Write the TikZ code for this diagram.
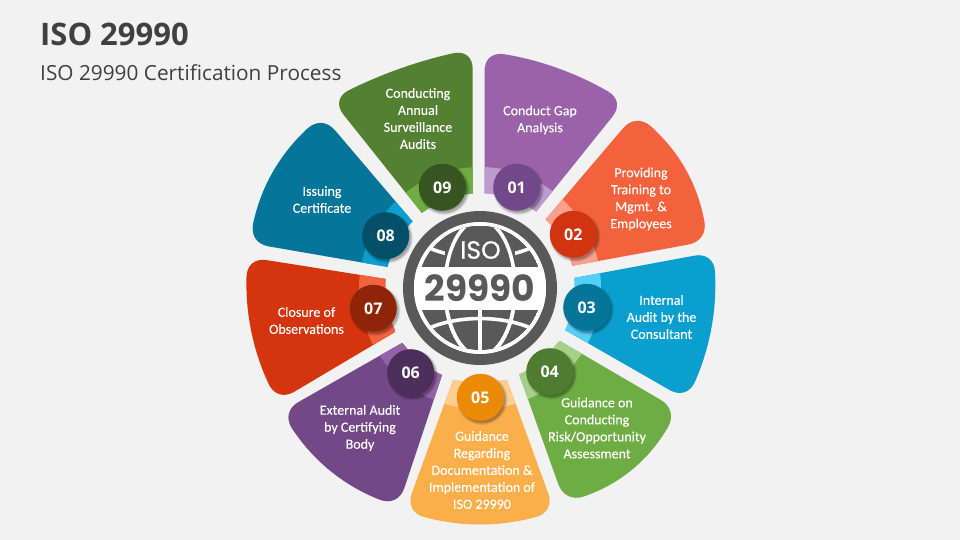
\documentclass[tikz,border=0pt]{standalone}
\usepackage{fontspec}
\setmainfont{Open Sans}
\newfontfamily\labelfont[FakeBold=0.15]{Carlito}
\newfontfamily\popfont{Poppins}
\newfontfamily\popiso[FakeBold=0.7]{Poppins}
\usetikzlibrary{calc}
\definecolor{bgc}{HTML}{F2F2F2}
\definecolor{ttl}{HTML}{404040}
\definecolor{globec}{HTML}{595959}
\definecolor{ma}{HTML}{9A62A8}\definecolor{la}{HTML}{BE9BCE}\definecolor{ba}{HTML}{71488A}
\definecolor{mb}{HTML}{F4623D}\definecolor{lb}{HTML}{F9A08B}\definecolor{bb}{HTML}{D2340F}
\definecolor{mc}{HTML}{0A9FCF}\definecolor{lc}{HTML}{55CFF7}\definecolor{bc}{HTML}{05759A}
\definecolor{md}{HTML}{6EAC44}\definecolor{ld}{HTML}{A6CF8A}\definecolor{bd}{HTML}{4F7C30}
\definecolor{me}{HTML}{FBAF4B}\definecolor{le}{HTML}{FDCD90}\definecolor{be}{HTML}{EA8B08}
\definecolor{mf}{HTML}{724886}\definecolor{lf}{HTML}{9362A8}\definecolor{bf}{HTML}{4B2E5A}
\definecolor{mg}{HTML}{D4350F}\definecolor{lg}{HTML}{F4623D}\definecolor{bg}{HTML}{8F2408}
\definecolor{mh}{HTML}{05759A}\definecolor{lh}{HTML}{0A9FCF}\definecolor{bh}{HTML}{035068}
\definecolor{mi}{HTML}{548032}\definecolor{li}{HTML}{6EAC44}\definecolor{bi}{HTML}{375521}
\tikzset{
  petaltext/.style={text=white,align=center,font=\labelfont\fontsize{14}{17}\selectfont,inner sep=0pt},
  badgeshape/.style={circle,minimum size=47pt,inner sep=0pt,text=white,font=\bfseries\fontsize{16}{18}\selectfont},
  meridian/.style={draw=white,line width=3.6pt}
}
% main, light, I1, P1, C, P2, I2
\newcommand\petal[7]{%
  \coordinate (I1) at (#3); \coordinate (P1) at (#4); \coordinate (C) at (#5);
  \coordinate (P2) at (#6); \coordinate (I2) at (#7);
  \coordinate (A1) at ($(P1)!20pt!(I1)$); \coordinate (F1) at ($(P1)!20pt!(C)$);
  \coordinate (F2) at ($(P2)!20pt!(C)$); \coordinate (A2) at ($(P2)!20pt!(I2)$);
  \def\petalpath{(I1) -- (A1) .. controls ($(A1)!.6!(P1)$) and ($(F1)!.6!(P1)$) .. (F1)
    .. controls ($(F1)!.66!(C)$) and ($(F2)!.66!(C)$) .. (F2)
    .. controls ($(F2)!.6!(P2)$) and ($(A2)!.6!(P2)$) .. (A2) -- (I2) -- cycle}
  \fill[#1] \petalpath;
  \begin{scope}
    \clip \petalpath;
    \fill[#2] (480,288) circle (121pt);
  \end{scope}
}
% name, centre, colour, text
\newcommand\badge[4]{%
  \foreach \rr/\oo in {25.5/.06,24.8/.08,24/.10,23.2/.12}{
    \fill[black,opacity=\oo] ($(#2)+(1.8,2.2)$) circle (\rr pt);
  }
  \node[badgeshape,fill=#3] (#1) at (#2) {#4};
}
\begin{document}
\begin{tikzpicture}[x=1pt,y=-1pt]
\useasboundingbox (0,0) rectangle (960,540);
\fill[bgc] (0,0) rectangle (960,540);

\node[anchor=west,inner sep=0pt,text=ttl,font=\bfseries\fontsize{31}{34}\selectfont] (title) at (40,34.5) {ISO 29990};
\node[anchor=west,inner sep=0pt,text=ttl,font=\fontsize{20.8}{24}\selectfont] (subtitle) at (40,73) {ISO 29990 Certification Process};

% petals
\petal{ma}{la}{484.5,195}{484.5,51}{558,63}{625,101}{535,213}
\petal{mb}{lb}{545,220}{636,113}{694,165}{708,241}{571,266}
\petal{mc}{lc}{574,278}{714,252}{718,329}{687,400}{565,330}
\petal{md}{ld}{560,341}{678,410}{638.5,477.5}{565,503}{519,374}
\petal{me}{le}{507,380}{555,512}{480,532}{405,512}{453,380}
\petal{mf}{lf}{442,375}{398,507}{325,478}{281,412}{402,343}
\petal{mg}{lg}{395,332}{277,402}{245,333}{247,257}{386,279}
\petal{mh}{lh}{388,267}{249,243}{265,168}{322,115}{413,222}
\petal{mi}{li}{421.7,212.7}{331,99}{400,65}{472.7,49}{472.7,195}

% centre cut-out
\fill[bgc] (480,288) circle (94.5pt);

% globe
\fill[globec] (480,288) circle (77pt);
\fill[white] (480,288) circle (66pt);
\begin{scope}
  \clip (480,288) circle (62pt);
  \fill[globec] (480,288) circle (62pt);
  \draw[meridian] (480,288) ellipse (35pt and 68pt);
  \draw[meridian] (480,310) -- (480,360);
  \draw[meridian] (412,338) .. controls (445,312) and (515,312) .. (548,338);
  \draw[meridian] (412,238) .. controls (445,264) and (515,264) .. (548,238);
  \fill[globec] (445,267) rectangle (515,215);
  \begin{scope}
    \clip (480,288) ellipse (33.2pt and 66.2pt);
    \fill[globec] (440,200) rectangle (520,267);
  \end{scope}
  \draw[meridian] (480,288) ellipse (35pt and 68pt);
\end{scope}
\begin{scope}
  \clip (480,288) circle (66pt);
  \fill[white] (400,267) rectangle (560,310);
\end{scope}
\node[inner sep=0pt,text=white,font=\popiso\fontsize{25}{27}\selectfont] (isotext) at (480.5,250) {ISO};
\node[inner sep=0pt,text=globec,font=\popfont\bfseries\fontsize{36}{38}\selectfont] (numtext) at (480,288) {29990};

% petal labels
\node[petaltext] (t1) at (540,120) {Conduct Gap\\Analysis};
\node[petaltext] (t2) at (641,199) {Providing\\Training to\\Mgmt. \&\\Employees};
\node[petaltext] (t3) at (661.5,317) {Internal\\Audit by the\\Consultant};
\node[petaltext] (t4) at (597,428) {Guidance on\\Conducting\\Risk/Opportunity\\Assessment};
\node[petaltext] (t5) at (482,470) {Guidance\\Regarding\\Documentation \&\\Implementation of\\ISO 29990};
\node[petaltext] (t6) at (360,428) {External Audit\\by Certifying\\Body};
\node[petaltext] (t7) at (306.5,320.5) {Closure of\\Observations};
\node[petaltext] (t8) at (322,199.5) {Issuing\\Certificate};
\node[petaltext] (t9) at (418,118.5) {Conducting\\Annual\\Surveillance\\Audits};

% badges
\badge{b1}{516.7,187.3}{ba}{01}
\badge{b2}{573.3,234.3}{bb}{02}
\badge{b3}{586.7,307.3}{bc}{03}
\badge{b4}{549.7,371.7}{bd}{04}
\badge{b5}{480.3,397.3}{be}{05}
\badge{b6}{410.7,372.7}{bf}{06}
\badge{b7}{373.3,308.3}{bg}{07}
\badge{b8}{385.7,235.7}{bh}{08}
\badge{b9}{442.3,187.3}{bi}{09}
\end{tikzpicture}
\end{document}
